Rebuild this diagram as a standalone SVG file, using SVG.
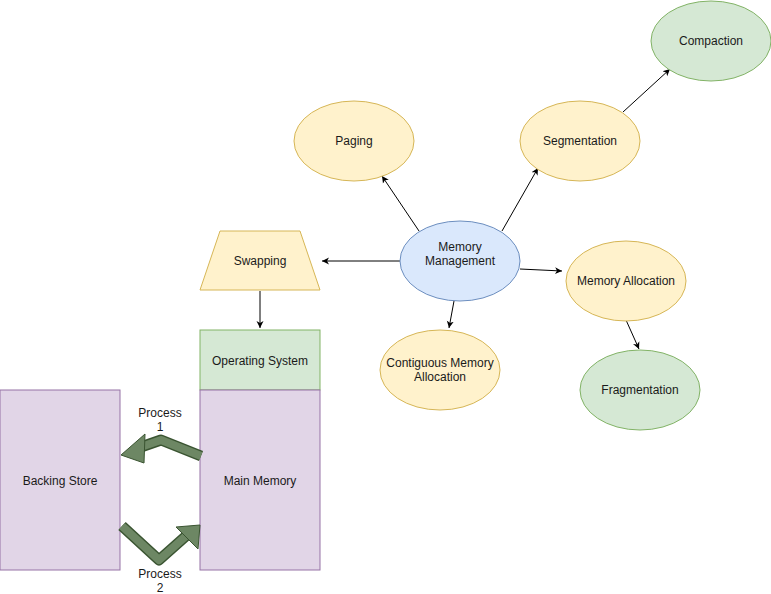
<svg xmlns="http://www.w3.org/2000/svg" width="771" height="594" viewBox="0 0 771 594">
<style>
text{font-family:"Liberation Sans",Arial,sans-serif;font-size:12px;fill:#1a1a1a;text-anchor:middle}
.y{fill:#fff2cc;stroke:#d6b656}
.g{fill:#d5e8d4;stroke:#82b366}
.b{fill:#dae8fc;stroke:#6c8ebf}
.p{fill:#e1d5e7;stroke:#9673a6}
.c{stroke:#000;fill:none;marker-end:url(#a)}
</style>
<defs><marker id="a" markerWidth="8" markerHeight="8" refX="7" refY="4" orient="auto" markerUnits="userSpaceOnUse"><path d="M0,0.5L7,4L0,7.5L2,4Z" fill="#000"/></marker></defs>
<rect width="771" height="594" fill="#fff"/>
<g id="connectors">
<path class="c" d="M419,231L382,176"/>
<path class="c" d="M502,231L538,168"/>
<path class="c" d="M623,112L670,69"/>
<path class="c" d="M400,261L322,261"/>
<path class="c" d="M520,269L562,271"/>
<path class="c" d="M454,301L449,328"/>
<path class="c" d="M626,320L639,349"/>
<path class="c" d="M260,291L260,328"/>
</g>
<g id="paging"><ellipse class="y" cx="354" cy="141" rx="60" ry="40"/><text x="354" y="145">Paging</text></g>
<g id="segmentation"><ellipse class="y" cx="580" cy="141" rx="60" ry="40"/><text x="580" y="145">Segmentation</text></g>
<g id="compaction"><ellipse class="g" cx="711" cy="41" rx="60" ry="40"/><text x="711" y="45">Compaction</text></g>
<g id="mm"><ellipse class="b" cx="460" cy="261" rx="60" ry="40"/><text x="460" y="251">Memory</text><text x="460" y="265">Management</text></g>
<g id="alloc"><ellipse class="y" cx="626" cy="281" rx="60" ry="40"/><text x="626" y="285">Memory Allocation</text></g>
<g id="frag"><ellipse class="g" cx="640" cy="390" rx="60" ry="40"/><text x="640" y="394">Fragmentation</text></g>
<g id="contig"><ellipse class="y" cx="440" cy="370" rx="60" ry="40"/><text x="440" y="367">Contiguous Memory</text><text x="440" y="381">Allocation</text></g>
<g id="swapping"><path class="y" d="M200,290L220,231L300,231L320,290Z"/><text x="260" y="265">Swapping</text></g>
<g id="os"><rect class="g" x="200" y="330" width="120" height="60"/><text x="260" y="365">Operating System</text></g>
<g id="main"><rect class="p" x="200" y="390" width="120" height="180"/><text x="260" y="485">Main Memory</text></g>
<g id="backing"><rect class="p" x="0" y="390" width="120" height="180"/><text x="60" y="485">Backing Store</text></g>
<g id="arrows">
<polyline points="201,456 161,440 138,448" fill="none" stroke="#3a5431" stroke-width="11" stroke-linejoin="round"/>
<polyline points="201,456 161,440 138,448" fill="none" stroke="#6d8764" stroke-width="8" stroke-linejoin="round"/>
<path d="M121,455L145,434L144,463Z" fill="#6d8764" stroke="#3a5431"/>
<polyline points="122,526 159,560 186,536" fill="none" stroke="#3a5431" stroke-width="11" stroke-linejoin="round"/>
<polyline points="122,526 159,560 186,536" fill="none" stroke="#6d8764" stroke-width="8" stroke-linejoin="round"/>
<path d="M200,525L176,527L198,549Z" fill="#6d8764" stroke="#3a5431"/>
</g>
<text x="160" y="417">Process</text><text x="160" y="431">1</text>
<text x="160" y="578">Process</text><text x="160" y="592">2</text>
</svg>
